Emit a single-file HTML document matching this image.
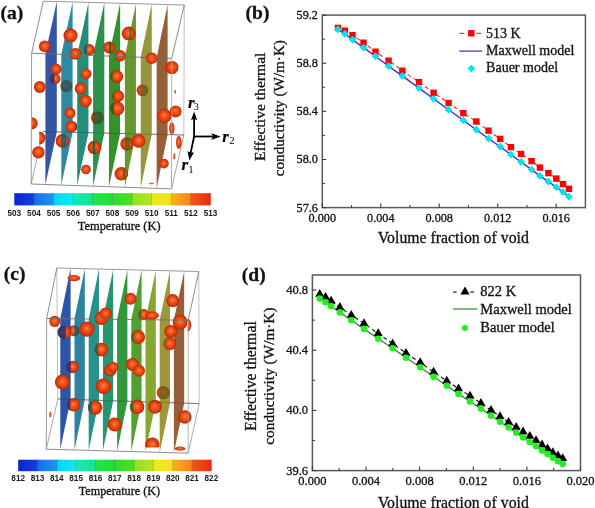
<!DOCTYPE html><html><head><meta charset="utf-8"><title>Figure</title><style>html,body{margin:0;padding:0;background:#fff;}svg{display:block;}text{stroke:#111;stroke-width:0.3px;paint-order:stroke;}</style></head><body>
<svg width="595" height="508" viewBox="0 0 595 508">
<defs>
<radialGradient id="sg" cx="0.5" cy="0.5" r="0.5" fx="0.5" fy="0.45"><stop offset="0" stop-color="#ff8a55"/><stop offset="0.35" stop-color="#f5561e"/><stop offset="0.75" stop-color="#e03a0a"/><stop offset="1" stop-color="#a82a05"/></radialGradient>
<linearGradient id="jet0" x1="0" x2="1" y1="0" y2="0"><stop offset="0" stop-color="#0a23d2"/><stop offset="1" stop-color="#1440e0"/></linearGradient>
<linearGradient id="jet1" x1="0" x2="1" y1="0" y2="0"><stop offset="0" stop-color="#146ee8"/><stop offset="1" stop-color="#1e96f0"/></linearGradient>
<linearGradient id="jet2" x1="0" x2="1" y1="0" y2="0"><stop offset="0" stop-color="#00d2f8"/><stop offset="1" stop-color="#10ecf0"/></linearGradient>
<linearGradient id="jet3" x1="0" x2="1" y1="0" y2="0"><stop offset="0" stop-color="#14eab4"/><stop offset="1" stop-color="#14e48c"/></linearGradient>
<linearGradient id="jet4" x1="0" x2="1" y1="0" y2="0"><stop offset="0" stop-color="#1ee650"/><stop offset="1" stop-color="#1ce036"/></linearGradient>
<linearGradient id="jet5" x1="0" x2="1" y1="0" y2="0"><stop offset="0" stop-color="#28e028"/><stop offset="1" stop-color="#50e020"/></linearGradient>
<linearGradient id="jet6" x1="0" x2="1" y1="0" y2="0"><stop offset="0" stop-color="#8ce220"/><stop offset="1" stop-color="#b8e620"/></linearGradient>
<linearGradient id="jet7" x1="0" x2="1" y1="0" y2="0"><stop offset="0" stop-color="#ecec1c"/><stop offset="1" stop-color="#f8e01c"/></linearGradient>
<linearGradient id="jet8" x1="0" x2="1" y1="0" y2="0"><stop offset="0" stop-color="#f8b418"/><stop offset="1" stop-color="#f88018"/></linearGradient>
<linearGradient id="jet9" x1="0" x2="1" y1="0" y2="0"><stop offset="0" stop-color="#f05a18"/><stop offset="1" stop-color="#e82814"/></linearGradient>
<linearGradient id="jet" x1="0" x2="1" y1="0" y2="0"><stop offset="0" stop-color="#0a1ed6"/><stop offset="0.1" stop-color="#1050e8"/><stop offset="0.2" stop-color="#1aa0f0"/><stop offset="0.3" stop-color="#10e6f2"/><stop offset="0.4" stop-color="#18e8a0"/><stop offset="0.5" stop-color="#20e050"/><stop offset="0.6" stop-color="#50dc20"/><stop offset="0.7" stop-color="#b0e020"/><stop offset="0.8" stop-color="#f0ec20"/><stop offset="0.9" stop-color="#f89818"/><stop offset="1" stop-color="#e82a10"/></linearGradient>
<clipPath id="clipA"><polygon points="43.3,1.2 184.3,5 183.8,135 171.5,188.9 31.2,184 31.6,53.3"/></clipPath>
<clipPath id="clipC"><polygon points="56.8,268 198.8,271.5 199.2,403.6 188.2,453.2 46.3,449.2 46.7,318.5"/></clipPath>
<clipPath id="cA1"><rect x="31.8" y="0" width="200" height="300"/></clipPath>
<clipPath id="cA2"><rect x="39.2" y="0" width="200" height="300"/></clipPath>
<clipPath id="cA3"><polygon points="0,0 184.3,135 172,188 0,188"/></clipPath>
<clipPath id="cC1"><rect x="49.3" y="250" width="200" height="300"/></clipPath>
<clipPath id="cC2"><rect x="187.7" y="250" width="200" height="300"/></clipPath>
<clipPath id="cC3"><rect x="0" y="250" width="250" height="197.5"/></clipPath>
</defs>
<line x1="43.3" y1="1.2" x2="184.3" y2="5" stroke="#8c8c8c" stroke-width="0.9" />
<line x1="184.3" y1="5" x2="183.8" y2="135" stroke="#b0b0b0" stroke-width="0.8" />
<line x1="183.8" y1="135" x2="43" y2="131.5" stroke="#7a7a7a" stroke-width="0.9" />
<line x1="171.5" y1="188.9" x2="183.8" y2="135" stroke="#909090" stroke-width="0.8" />
<line x1="31.2" y1="184" x2="43" y2="131.5" stroke="#909090" stroke-width="0.8" />
<polygon points="45.4,53.8 56.8,1.56 56.8,131.84 45.4,184.5" fill="#254b9a" fill-opacity="0.94"/>
<polygon points="61.29,54.38 72.63,1.99 72.63,132.24 61.29,185.05" fill="#20839a" fill-opacity="0.94"/>
<polygon points="77.18,54.96 88.46,2.42 88.46,132.63 77.18,185.61" fill="#1a8572" fill-opacity="0.94"/>
<polygon points="93.07,55.54 104.29,2.84 104.29,133.02 93.07,186.16" fill="#208a43" fill-opacity="0.94"/>
<polygon points="108.96,56.12 120.12,3.27 120.12,133.42 108.96,186.72" fill="#278a1f" fill-opacity="0.94"/>
<polygon points="124.85,56.69 135.95,3.7 135.95,133.81 124.85,187.27" fill="#5f8f22" fill-opacity="0.94"/>
<polygon points="140.74,57.27 151.78,4.12 151.78,134.2 140.74,187.83" fill="#8f8f30" fill-opacity="0.94"/>
<polygon points="156.63,57.85 167.61,4.55 167.61,134.6 156.63,188.38" fill="#8f552a" fill-opacity="0.94"/>
<clipPath id="bca10"><circle cx="66.3" cy="86.2" r="5.9"/></clipPath>
<circle cx="66.3" cy="86.2" r="5.9" fill="url(#sg)"/>
<g clip-path="url(#bca10)">
<polygon points="45.4,53.8 56.8,1.56 56.8,131.84 45.4,184.5" fill="#254b9a" fill-opacity="0.8"/>
<polygon points="45.4,53.8 56.8,1.56 56.8,131.84 45.4,184.5" fill="#000" fill-opacity="0.25"/>
<polygon points="61.29,54.38 72.63,1.99 72.63,132.24 61.29,185.05" fill="#20839a" fill-opacity="0.8"/>
<polygon points="61.29,54.38 72.63,1.99 72.63,132.24 61.29,185.05" fill="#000" fill-opacity="0.25"/>
<polygon points="77.18,54.96 88.46,2.42 88.46,132.63 77.18,185.61" fill="#1a8572" fill-opacity="0.8"/>
<polygon points="77.18,54.96 88.46,2.42 88.46,132.63 77.18,185.61" fill="#000" fill-opacity="0.25"/>
<polygon points="93.07,55.54 104.29,2.84 104.29,133.02 93.07,186.16" fill="#208a43" fill-opacity="0.8"/>
<polygon points="93.07,55.54 104.29,2.84 104.29,133.02 93.07,186.16" fill="#000" fill-opacity="0.25"/>
<polygon points="108.96,56.12 120.12,3.27 120.12,133.42 108.96,186.72" fill="#278a1f" fill-opacity="0.8"/>
<polygon points="108.96,56.12 120.12,3.27 120.12,133.42 108.96,186.72" fill="#000" fill-opacity="0.25"/>
<polygon points="124.85,56.69 135.95,3.7 135.95,133.81 124.85,187.27" fill="#5f8f22" fill-opacity="0.8"/>
<polygon points="124.85,56.69 135.95,3.7 135.95,133.81 124.85,187.27" fill="#000" fill-opacity="0.25"/>
<polygon points="140.74,57.27 151.78,4.12 151.78,134.2 140.74,187.83" fill="#8f8f30" fill-opacity="0.8"/>
<polygon points="140.74,57.27 151.78,4.12 151.78,134.2 140.74,187.83" fill="#000" fill-opacity="0.25"/>
<polygon points="156.63,57.85 167.61,4.55 167.61,134.6 156.63,188.38" fill="#8f552a" fill-opacity="0.8"/>
<polygon points="156.63,57.85 167.61,4.55 167.61,134.6 156.63,188.38" fill="#000" fill-opacity="0.25"/>
</g>
<clipPath id="bca19"><circle cx="97.2" cy="117.8" r="6.3"/></clipPath>
<circle cx="97.2" cy="117.8" r="6.3" fill="url(#sg)"/>
<g clip-path="url(#bca19)">
<polygon points="45.4,53.8 56.8,1.56 56.8,131.84 45.4,184.5" fill="#254b9a" fill-opacity="0.8"/>
<polygon points="45.4,53.8 56.8,1.56 56.8,131.84 45.4,184.5" fill="#000" fill-opacity="0.25"/>
<polygon points="61.29,54.38 72.63,1.99 72.63,132.24 61.29,185.05" fill="#20839a" fill-opacity="0.8"/>
<polygon points="61.29,54.38 72.63,1.99 72.63,132.24 61.29,185.05" fill="#000" fill-opacity="0.25"/>
<polygon points="77.18,54.96 88.46,2.42 88.46,132.63 77.18,185.61" fill="#1a8572" fill-opacity="0.8"/>
<polygon points="77.18,54.96 88.46,2.42 88.46,132.63 77.18,185.61" fill="#000" fill-opacity="0.25"/>
<polygon points="93.07,55.54 104.29,2.84 104.29,133.02 93.07,186.16" fill="#208a43" fill-opacity="0.8"/>
<polygon points="93.07,55.54 104.29,2.84 104.29,133.02 93.07,186.16" fill="#000" fill-opacity="0.25"/>
<polygon points="108.96,56.12 120.12,3.27 120.12,133.42 108.96,186.72" fill="#278a1f" fill-opacity="0.8"/>
<polygon points="108.96,56.12 120.12,3.27 120.12,133.42 108.96,186.72" fill="#000" fill-opacity="0.25"/>
<polygon points="124.85,56.69 135.95,3.7 135.95,133.81 124.85,187.27" fill="#5f8f22" fill-opacity="0.8"/>
<polygon points="124.85,56.69 135.95,3.7 135.95,133.81 124.85,187.27" fill="#000" fill-opacity="0.25"/>
<polygon points="140.74,57.27 151.78,4.12 151.78,134.2 140.74,187.83" fill="#8f8f30" fill-opacity="0.8"/>
<polygon points="140.74,57.27 151.78,4.12 151.78,134.2 140.74,187.83" fill="#000" fill-opacity="0.25"/>
<polygon points="156.63,57.85 167.61,4.55 167.61,134.6 156.63,188.38" fill="#8f552a" fill-opacity="0.8"/>
<polygon points="156.63,57.85 167.61,4.55 167.61,134.6 156.63,188.38" fill="#000" fill-opacity="0.25"/>
</g>
<clipPath id="bca20"><circle cx="142.4" cy="90.3" r="5.8"/></clipPath>
<circle cx="142.4" cy="90.3" r="5.8" fill="url(#sg)"/>
<g clip-path="url(#bca20)">
<polygon points="45.4,53.8 56.8,1.56 56.8,131.84 45.4,184.5" fill="#254b9a" fill-opacity="0.8"/>
<polygon points="45.4,53.8 56.8,1.56 56.8,131.84 45.4,184.5" fill="#000" fill-opacity="0.25"/>
<polygon points="61.29,54.38 72.63,1.99 72.63,132.24 61.29,185.05" fill="#20839a" fill-opacity="0.8"/>
<polygon points="61.29,54.38 72.63,1.99 72.63,132.24 61.29,185.05" fill="#000" fill-opacity="0.25"/>
<polygon points="77.18,54.96 88.46,2.42 88.46,132.63 77.18,185.61" fill="#1a8572" fill-opacity="0.8"/>
<polygon points="77.18,54.96 88.46,2.42 88.46,132.63 77.18,185.61" fill="#000" fill-opacity="0.25"/>
<polygon points="93.07,55.54 104.29,2.84 104.29,133.02 93.07,186.16" fill="#208a43" fill-opacity="0.8"/>
<polygon points="93.07,55.54 104.29,2.84 104.29,133.02 93.07,186.16" fill="#000" fill-opacity="0.25"/>
<polygon points="108.96,56.12 120.12,3.27 120.12,133.42 108.96,186.72" fill="#278a1f" fill-opacity="0.8"/>
<polygon points="108.96,56.12 120.12,3.27 120.12,133.42 108.96,186.72" fill="#000" fill-opacity="0.25"/>
<polygon points="124.85,56.69 135.95,3.7 135.95,133.81 124.85,187.27" fill="#5f8f22" fill-opacity="0.8"/>
<polygon points="124.85,56.69 135.95,3.7 135.95,133.81 124.85,187.27" fill="#000" fill-opacity="0.25"/>
<polygon points="140.74,57.27 151.78,4.12 151.78,134.2 140.74,187.83" fill="#8f8f30" fill-opacity="0.8"/>
<polygon points="140.74,57.27 151.78,4.12 151.78,134.2 140.74,187.83" fill="#000" fill-opacity="0.25"/>
<polygon points="156.63,57.85 167.61,4.55 167.61,134.6 156.63,188.38" fill="#8f552a" fill-opacity="0.8"/>
<polygon points="156.63,57.85 167.61,4.55 167.61,134.6 156.63,188.38" fill="#000" fill-opacity="0.25"/>
</g>
<circle cx="44.8" cy="46.4" r="5.9" fill="url(#sg)"/>
<circle cx="70.5" cy="35.5" r="7" fill="url(#sg)"/>
<circle cx="75.4" cy="53.9" r="5.9" fill="url(#sg)"/>
<circle cx="89.3" cy="49.7" r="5.6" fill="url(#sg)"/>
<circle cx="109.2" cy="47.6" r="6" fill="url(#sg)"/>
<circle cx="128.7" cy="33.6" r="7" fill="url(#sg)"/>
<circle cx="120.3" cy="55.7" r="5.7" fill="url(#sg)"/>
<circle cx="56.2" cy="69.2" r="5.5" fill="url(#sg)"/>
<circle cx="55.2" cy="78.8" r="5.4" fill="url(#sg)"/>
<circle cx="39.8" cy="87" r="5.9" fill="url(#sg)"/>
<circle cx="86" cy="73.8" r="5.4" fill="url(#sg)"/>
<circle cx="80.6" cy="88.5" r="5.9" fill="url(#sg)"/>
<circle cx="85.5" cy="101" r="6.3" fill="url(#sg)"/>
<circle cx="116.8" cy="76.5" r="6.4" fill="url(#sg)"/>
<circle cx="118.2" cy="96.2" r="5.9" fill="url(#sg)"/>
<circle cx="117.3" cy="108.5" r="7" fill="url(#sg)"/>
<circle cx="70" cy="113.1" r="5.5" fill="url(#sg)"/>
<circle cx="71.4" cy="126.7" r="5.9" fill="url(#sg)"/>
<circle cx="151.7" cy="58.2" r="5.8" fill="url(#sg)"/>
<circle cx="171.9" cy="67.5" r="6.6" fill="url(#sg)"/>
<circle cx="175.6" cy="111.4" r="6" fill="url(#sg)"/>
<circle cx="164.3" cy="116" r="7.2" fill="url(#sg)"/>
<circle cx="31.5" cy="123.4" r="6.2" fill="url(#sg)" clip-path="url(#cA1)"/>
<circle cx="38.9" cy="138" r="6.5" fill="url(#sg)" clip-path="url(#cA2)"/>
<circle cx="62.5" cy="140.9" r="6.8" fill="url(#sg)"/>
<circle cx="38.4" cy="152.4" r="6.2" fill="url(#sg)"/>
<circle cx="94.4" cy="147.5" r="6.8" fill="url(#sg)"/>
<circle cx="86" cy="169.5" r="4.8" fill="url(#sg)"/>
<circle cx="121.3" cy="173.8" r="6.8" fill="url(#sg)"/>
<circle cx="126.9" cy="143.8" r="6.6" fill="url(#sg)"/>
<circle cx="138.6" cy="140.9" r="6.8" fill="url(#sg)"/>
<circle cx="164" cy="163.6" r="4.8" fill="url(#sg)"/>
<ellipse cx="171.8" cy="128.4" rx="2.6" ry="6.2" fill="url(#sg)"/>
<ellipse cx="178.8" cy="142.4" rx="2.7" ry="6.4" fill="url(#sg)" clip-path="url(#cA3)"/>
<ellipse cx="174.3" cy="156.2" rx="1" ry="3" fill="url(#sg)"/>
<ellipse cx="175.2" cy="91.8" rx="0.8" ry="2" fill="url(#sg)"/>
<ellipse cx="151.4" cy="183.5" rx="2.5" ry="0.8" fill="url(#sg)"/>
<clipPath id="bda0"><circle cx="62.5" cy="140.9" r="6.8"/></clipPath>
<g clip-path="url(#bda0)"><rect x="61" y="134.1" width="5.4" height="13.6" fill="#20839a" fill-opacity="0.8"/><rect x="61" y="134.1" width="5.4" height="13.6" fill="#000" fill-opacity="0.22"/></g>
<clipPath id="bda1"><circle cx="94.4" cy="147.5" r="6.8"/></clipPath>
<g clip-path="url(#bda1)"><rect x="92.6" y="140.7" width="2.7" height="13.6" fill="#208a43" fill-opacity="0.8"/><rect x="92.6" y="140.7" width="2.7" height="13.6" fill="#000" fill-opacity="0.22"/></g>
<clipPath id="bda2"><circle cx="126.9" cy="143.8" r="6.6"/></clipPath>
<g clip-path="url(#bda2)"><rect x="124.9" y="137.2" width="4.7" height="13.2" fill="#5f8f22" fill-opacity="0.8"/><rect x="124.9" y="137.2" width="4.7" height="13.2" fill="#000" fill-opacity="0.22"/></g>
<clipPath id="bda3"><circle cx="121.3" cy="173.8" r="6.8"/></clipPath>
<g clip-path="url(#bda3)"><rect x="122.9" y="167" width="2" height="13.6" fill="#5f8f22" fill-opacity="0.8"/><rect x="122.9" y="167" width="2" height="13.6" fill="#000" fill-opacity="0.22"/></g>
<clipPath id="bda4"><circle cx="71.4" cy="126.7" r="5.9"/></clipPath>
<g clip-path="url(#bda4)"><rect x="75.2" y="120.8" width="2.4" height="11.8" fill="#1a8572" fill-opacity="0.8"/><rect x="75.2" y="120.8" width="2.4" height="11.8" fill="#000" fill-opacity="0.22"/></g>
<clipPath id="bda5"><circle cx="55.2" cy="78.8" r="5.4"/></clipPath>
<g clip-path="url(#bda5)"><rect x="49.5" y="73.4" width="5" height="10.8" fill="#254b9a" fill-opacity="0.8"/><rect x="49.5" y="73.4" width="5" height="10.8" fill="#000" fill-opacity="0.22"/></g>
<clipPath id="bda6"><circle cx="89.3" cy="49.7" r="5.6"/></clipPath>
<g clip-path="url(#bda6)"><rect x="83.5" y="44.1" width="3.5" height="11.2" fill="#1a8572" fill-opacity="0.8"/><rect x="83.5" y="44.1" width="3.5" height="11.2" fill="#000" fill-opacity="0.22"/></g>
<clipPath id="bda7"><circle cx="117.3" cy="108.5" r="7"/></clipPath>
<g clip-path="url(#bda7)"><rect x="110" y="101.5" width="4" height="14" fill="#278a1f" fill-opacity="0.8"/><rect x="110" y="101.5" width="4" height="14" fill="#000" fill-opacity="0.22"/></g>
<clipPath id="bda8"><circle cx="116.8" cy="76.5" r="6.4"/></clipPath>
<g clip-path="url(#bda8)"><rect x="110.2" y="70.1" width="2.3" height="12.8" fill="#278a1f" fill-opacity="0.8"/><rect x="110.2" y="70.1" width="2.3" height="12.8" fill="#000" fill-opacity="0.22"/></g>
<clipPath id="bda9"><circle cx="118.2" cy="96.2" r="5.9"/></clipPath>
<g clip-path="url(#bda9)"><rect x="112.2" y="90.3" width="1.8" height="11.8" fill="#278a1f" fill-opacity="0.8"/><rect x="112.2" y="90.3" width="1.8" height="11.8" fill="#000" fill-opacity="0.22"/></g>
<clipPath id="bda10"><circle cx="128.7" cy="33.6" r="7"/></clipPath>
<g clip-path="url(#bda10)"><rect x="129.5" y="26.6" width="1.7" height="14" fill="#5f8f22" fill-opacity="0.8"/><rect x="129.5" y="26.6" width="1.7" height="14" fill="#000" fill-opacity="0.22"/></g>
<clipPath id="bda11"><circle cx="109.2" cy="47.6" r="6"/></clipPath>
<g clip-path="url(#bda11)"><rect x="109" y="41.6" width="2.3" height="12" fill="#278a1f" fill-opacity="0.8"/><rect x="109" y="41.6" width="2.3" height="12" fill="#000" fill-opacity="0.22"/></g>
<line x1="183.8" y1="135" x2="43" y2="131.5" stroke="#303030" stroke-width="0.8" stroke-dasharray="1.2 1" stroke-opacity="0.45"/>
<line x1="31.6" y1="53.3" x2="171.7" y2="58.4" stroke="#707070" stroke-width="0.9" />
<line x1="171.7" y1="58.4" x2="171.5" y2="188.9" stroke="#a0a0a0" stroke-width="0.8" />
<line x1="171.5" y1="188.9" x2="31.2" y2="184" stroke="#808080" stroke-width="0.9" />
<line x1="31.2" y1="184" x2="31.6" y2="53.3" stroke="#909090" stroke-width="0.9" />
<line x1="31.6" y1="53.3" x2="43.3" y2="1.2" stroke="#707070" stroke-width="0.8" />
<line x1="171.7" y1="58.4" x2="184.3" y2="5" stroke="#707070" stroke-width="0.8" />
<rect x="14.3" y="193.2" width="19.92" height="12.2" fill="url(#jet0)"/>
<rect x="33.92" y="193.2" width="19.92" height="12.2" fill="url(#jet1)"/>
<rect x="53.54" y="193.2" width="19.92" height="12.2" fill="url(#jet2)"/>
<rect x="73.16" y="193.2" width="19.92" height="12.2" fill="url(#jet3)"/>
<rect x="92.78" y="193.2" width="19.92" height="12.2" fill="url(#jet4)"/>
<rect x="112.4" y="193.2" width="19.92" height="12.2" fill="url(#jet5)"/>
<rect x="132.02" y="193.2" width="19.92" height="12.2" fill="url(#jet6)"/>
<rect x="151.64" y="193.2" width="19.92" height="12.2" fill="url(#jet7)"/>
<rect x="171.26" y="193.2" width="19.92" height="12.2" fill="url(#jet8)"/>
<rect x="190.88" y="193.2" width="19.92" height="12.2" fill="url(#jet9)"/>
<line x1="33.92" y1="193.2" x2="33.92" y2="205.4" stroke="#333" stroke-width="0.7" stroke-dasharray="1 1" stroke-opacity="0.6"/>
<line x1="53.54" y1="193.2" x2="53.54" y2="205.4" stroke="#333" stroke-width="0.7" stroke-dasharray="1 1" stroke-opacity="0.6"/>
<line x1="73.16" y1="193.2" x2="73.16" y2="205.4" stroke="#333" stroke-width="0.7" stroke-dasharray="1 1" stroke-opacity="0.6"/>
<line x1="92.78" y1="193.2" x2="92.78" y2="205.4" stroke="#333" stroke-width="0.7" stroke-dasharray="1 1" stroke-opacity="0.6"/>
<line x1="112.4" y1="193.2" x2="112.4" y2="205.4" stroke="#333" stroke-width="0.7" stroke-dasharray="1 1" stroke-opacity="0.6"/>
<line x1="132.02" y1="193.2" x2="132.02" y2="205.4" stroke="#333" stroke-width="0.7" stroke-dasharray="1 1" stroke-opacity="0.6"/>
<line x1="151.64" y1="193.2" x2="151.64" y2="205.4" stroke="#333" stroke-width="0.7" stroke-dasharray="1 1" stroke-opacity="0.6"/>
<line x1="171.26" y1="193.2" x2="171.26" y2="205.4" stroke="#333" stroke-width="0.7" stroke-dasharray="1 1" stroke-opacity="0.6"/>
<line x1="190.88" y1="193.2" x2="190.88" y2="205.4" stroke="#333" stroke-width="0.7" stroke-dasharray="1 1" stroke-opacity="0.6"/>
<text x="14.3" y="215.6" text-anchor="middle" font-family="'Liberation Sans', Arial, sans-serif" font-size="8.2" font-weight="bold" fill="#1a1a1a" style="stroke-width:0">503</text>
<text x="33.92" y="215.6" text-anchor="middle" font-family="'Liberation Sans', Arial, sans-serif" font-size="8.2" font-weight="bold" fill="#1a1a1a" style="stroke-width:0">504</text>
<text x="53.54" y="215.6" text-anchor="middle" font-family="'Liberation Sans', Arial, sans-serif" font-size="8.2" font-weight="bold" fill="#1a1a1a" style="stroke-width:0">505</text>
<text x="73.16" y="215.6" text-anchor="middle" font-family="'Liberation Sans', Arial, sans-serif" font-size="8.2" font-weight="bold" fill="#1a1a1a" style="stroke-width:0">506</text>
<text x="92.78" y="215.6" text-anchor="middle" font-family="'Liberation Sans', Arial, sans-serif" font-size="8.2" font-weight="bold" fill="#1a1a1a" style="stroke-width:0">507</text>
<text x="112.4" y="215.6" text-anchor="middle" font-family="'Liberation Sans', Arial, sans-serif" font-size="8.2" font-weight="bold" fill="#1a1a1a" style="stroke-width:0">508</text>
<text x="132.02" y="215.6" text-anchor="middle" font-family="'Liberation Sans', Arial, sans-serif" font-size="8.2" font-weight="bold" fill="#1a1a1a" style="stroke-width:0">509</text>
<text x="151.64" y="215.6" text-anchor="middle" font-family="'Liberation Sans', Arial, sans-serif" font-size="8.2" font-weight="bold" fill="#1a1a1a" style="stroke-width:0">510</text>
<text x="171.26" y="215.6" text-anchor="middle" font-family="'Liberation Sans', Arial, sans-serif" font-size="8.2" font-weight="bold" fill="#1a1a1a" style="stroke-width:0">511</text>
<text x="190.88" y="215.6" text-anchor="middle" font-family="'Liberation Sans', Arial, sans-serif" font-size="8.2" font-weight="bold" fill="#1a1a1a" style="stroke-width:0">512</text>
<text x="210.5" y="215.6" text-anchor="middle" font-family="'Liberation Sans', Arial, sans-serif" font-size="8.2" font-weight="bold" fill="#1a1a1a" style="stroke-width:0">513</text>
<text x="119.2" y="230.3" text-anchor="middle" font-family="'Liberation Serif', 'Times New Roman', serif" font-size="12.4" fill="#111">Temperature (K)</text>
<text x="0.5" y="18.8" font-family="'Liberation Serif', 'Times New Roman', serif" font-size="19.5" font-weight="bold" fill="#111">(a)</text>
<g stroke="#000" stroke-width="1.8" fill="none"><line x1="194.1" y1="137.4" x2="194.1" y2="118"/><line x1="193.3" y1="136.5" x2="213" y2="136.5"/><line x1="194.1" y1="136.5" x2="190.6" y2="153"/></g>
<polygon points="194.1,111.4 197.3,120.5 194.1,118.5 190.9,120.5" fill="#000"/>
<polygon points="220.6,136.6 211.2,139.9 213.2,136.6 211.2,133.3" fill="#000"/>
<polygon points="189.3,160.6 187.6,151.2 190.8,152.6 194,152.5" fill="#000"/>
<text x="188.0" y="107.6" font-family="'Liberation Serif', 'Times New Roman', serif" font-size="17" font-style="italic" font-weight="bold" fill="#000" style="stroke-width:0.15px">r</text><text x="193.6" y="109.8" font-family="'Liberation Serif', 'Times New Roman', serif" font-size="10.8" fill="#000" style="stroke-width:0">3</text>
<text x="222.3" y="141.5" font-family="'Liberation Serif', 'Times New Roman', serif" font-size="17" font-style="italic" font-weight="bold" fill="#000" style="stroke-width:0.15px">r</text><text x="229.2" y="144" font-family="'Liberation Serif', 'Times New Roman', serif" font-size="10.8" fill="#000" style="stroke-width:0">2</text>
<text x="181.6" y="170.4" font-family="'Liberation Serif', 'Times New Roman', serif" font-size="17" font-style="italic" font-weight="bold" fill="#000" style="stroke-width:0.15px">r</text><text x="188.2" y="173.4" font-family="'Liberation Serif', 'Times New Roman', serif" font-size="10.8" fill="#000" style="stroke-width:0">1</text>
<line x1="56.8" y1="268" x2="198.8" y2="271.5" stroke="#8c8c8c" stroke-width="0.9" />
<line x1="198.8" y1="271.5" x2="199.2" y2="403.6" stroke="#b0b0b0" stroke-width="0.8" />
<line x1="199.2" y1="403.6" x2="57.8" y2="398.9" stroke="#7a7a7a" stroke-width="0.9" />
<line x1="57.8" y1="398.9" x2="56.8" y2="268" stroke="#b0b0b0" stroke-width="0.8" />
<line x1="188.2" y1="453.2" x2="199.2" y2="403.6" stroke="#909090" stroke-width="0.8" />
<line x1="46.3" y1="449.2" x2="57.8" y2="398.9" stroke="#909090" stroke-width="0.8" />
<polygon points="60.3,318.66 70.6,268.34 70.6,399.33 60.3,449.59" fill="#204a9f" fill-opacity="0.94"/>
<polygon points="74.5,318.83 84.8,268.69 84.8,399.8 74.5,449.99" fill="#207a9a" fill-opacity="0.94"/>
<polygon points="88.7,319 99,269.04 99,400.27 88.7,450.4" fill="#1a8a85" fill-opacity="0.94"/>
<polygon points="102.9,319.18 113.2,269.39 113.2,400.74 102.9,450.8" fill="#1a8f65" fill-opacity="0.94"/>
<polygon points="117.1,319.35 127.4,269.74 127.4,401.21 117.1,451.2" fill="#258f30" fill-opacity="0.94"/>
<polygon points="131.3,319.52 141.6,270.09 141.6,401.69 131.3,451.6" fill="#459a25" fill-opacity="0.94"/>
<polygon points="145.5,319.69 155.8,270.44 155.8,402.16 145.5,452" fill="#7fa225" fill-opacity="0.94"/>
<polygon points="159.7,319.86 170,270.79 170,402.63 159.7,452.4" fill="#9a8f30" fill-opacity="0.94"/>
<polygon points="173.9,320.03 184.2,271.14 184.2,403.1 173.9,452.8" fill="#8f552a" fill-opacity="0.94"/>
<clipPath id="bcc3"><circle cx="73.8" cy="330.7" r="5.5"/></clipPath>
<circle cx="73.8" cy="330.7" r="5.5" fill="url(#sg)"/>
<g clip-path="url(#bcc3)">
<polygon points="60.3,318.66 70.6,268.34 70.6,399.33 60.3,449.59" fill="#204a9f" fill-opacity="0.8"/>
<polygon points="60.3,318.66 70.6,268.34 70.6,399.33 60.3,449.59" fill="#000" fill-opacity="0.25"/>
<polygon points="74.5,318.83 84.8,268.69 84.8,399.8 74.5,449.99" fill="#207a9a" fill-opacity="0.8"/>
<polygon points="74.5,318.83 84.8,268.69 84.8,399.8 74.5,449.99" fill="#000" fill-opacity="0.25"/>
<polygon points="88.7,319 99,269.04 99,400.27 88.7,450.4" fill="#1a8a85" fill-opacity="0.8"/>
<polygon points="88.7,319 99,269.04 99,400.27 88.7,450.4" fill="#000" fill-opacity="0.25"/>
<polygon points="102.9,319.18 113.2,269.39 113.2,400.74 102.9,450.8" fill="#1a8f65" fill-opacity="0.8"/>
<polygon points="102.9,319.18 113.2,269.39 113.2,400.74 102.9,450.8" fill="#000" fill-opacity="0.25"/>
<polygon points="117.1,319.35 127.4,269.74 127.4,401.21 117.1,451.2" fill="#258f30" fill-opacity="0.8"/>
<polygon points="117.1,319.35 127.4,269.74 127.4,401.21 117.1,451.2" fill="#000" fill-opacity="0.25"/>
<polygon points="131.3,319.52 141.6,270.09 141.6,401.69 131.3,451.6" fill="#459a25" fill-opacity="0.8"/>
<polygon points="131.3,319.52 141.6,270.09 141.6,401.69 131.3,451.6" fill="#000" fill-opacity="0.25"/>
<polygon points="145.5,319.69 155.8,270.44 155.8,402.16 145.5,452" fill="#7fa225" fill-opacity="0.8"/>
<polygon points="145.5,319.69 155.8,270.44 155.8,402.16 145.5,452" fill="#000" fill-opacity="0.25"/>
<polygon points="159.7,319.86 170,270.79 170,402.63 159.7,452.4" fill="#9a8f30" fill-opacity="0.8"/>
<polygon points="159.7,319.86 170,270.79 170,402.63 159.7,452.4" fill="#000" fill-opacity="0.25"/>
<polygon points="173.9,320.03 184.2,271.14 184.2,403.1 173.9,452.8" fill="#8f552a" fill-opacity="0.8"/>
<polygon points="173.9,320.03 184.2,271.14 184.2,403.1 173.9,452.8" fill="#000" fill-opacity="0.25"/>
</g>
<clipPath id="bcc27"><circle cx="163.3" cy="392.7" r="6.5"/></clipPath>
<circle cx="163.3" cy="392.7" r="6.5" fill="url(#sg)"/>
<g clip-path="url(#bcc27)">
<polygon points="60.3,318.66 70.6,268.34 70.6,399.33 60.3,449.59" fill="#204a9f" fill-opacity="0.8"/>
<polygon points="60.3,318.66 70.6,268.34 70.6,399.33 60.3,449.59" fill="#000" fill-opacity="0.25"/>
<polygon points="74.5,318.83 84.8,268.69 84.8,399.8 74.5,449.99" fill="#207a9a" fill-opacity="0.8"/>
<polygon points="74.5,318.83 84.8,268.69 84.8,399.8 74.5,449.99" fill="#000" fill-opacity="0.25"/>
<polygon points="88.7,319 99,269.04 99,400.27 88.7,450.4" fill="#1a8a85" fill-opacity="0.8"/>
<polygon points="88.7,319 99,269.04 99,400.27 88.7,450.4" fill="#000" fill-opacity="0.25"/>
<polygon points="102.9,319.18 113.2,269.39 113.2,400.74 102.9,450.8" fill="#1a8f65" fill-opacity="0.8"/>
<polygon points="102.9,319.18 113.2,269.39 113.2,400.74 102.9,450.8" fill="#000" fill-opacity="0.25"/>
<polygon points="117.1,319.35 127.4,269.74 127.4,401.21 117.1,451.2" fill="#258f30" fill-opacity="0.8"/>
<polygon points="117.1,319.35 127.4,269.74 127.4,401.21 117.1,451.2" fill="#000" fill-opacity="0.25"/>
<polygon points="131.3,319.52 141.6,270.09 141.6,401.69 131.3,451.6" fill="#459a25" fill-opacity="0.8"/>
<polygon points="131.3,319.52 141.6,270.09 141.6,401.69 131.3,451.6" fill="#000" fill-opacity="0.25"/>
<polygon points="145.5,319.69 155.8,270.44 155.8,402.16 145.5,452" fill="#7fa225" fill-opacity="0.8"/>
<polygon points="145.5,319.69 155.8,270.44 155.8,402.16 145.5,452" fill="#000" fill-opacity="0.25"/>
<polygon points="159.7,319.86 170,270.79 170,402.63 159.7,452.4" fill="#9a8f30" fill-opacity="0.8"/>
<polygon points="159.7,319.86 170,270.79 170,402.63 159.7,452.4" fill="#000" fill-opacity="0.25"/>
<polygon points="173.9,320.03 184.2,271.14 184.2,403.1 173.9,452.8" fill="#8f552a" fill-opacity="0.8"/>
<polygon points="173.9,320.03 184.2,271.14 184.2,403.1 173.9,452.8" fill="#000" fill-opacity="0.25"/>
</g>
<ellipse cx="73.9" cy="278.1" rx="6.4" ry="3.1" fill="url(#sg)"/>
<circle cx="54.6" cy="321.3" r="5.6" fill="url(#sg)" clip-path="url(#cC1)"/>
<circle cx="64.4" cy="332.3" r="6.8" fill="url(#sg)"/>
<circle cx="86.9" cy="329.1" r="7.6" fill="url(#sg)"/>
<circle cx="101.4" cy="318.1" r="6.8" fill="url(#sg)"/>
<circle cx="105.7" cy="313.6" r="6" fill="url(#sg)"/>
<circle cx="101.4" cy="349.6" r="6.8" fill="url(#sg)"/>
<circle cx="72.5" cy="367" r="6.2" fill="url(#sg)"/>
<circle cx="62.4" cy="382" r="7.5" fill="url(#sg)"/>
<circle cx="110.2" cy="370.3" r="6.2" fill="url(#sg)"/>
<circle cx="112.9" cy="367.2" r="5.5" fill="url(#sg)"/>
<circle cx="103.5" cy="386.2" r="7.8" fill="url(#sg)"/>
<circle cx="73.6" cy="404.8" r="6.8" fill="url(#sg)"/>
<circle cx="95.1" cy="407.6" r="7.2" fill="url(#sg)"/>
<circle cx="114.7" cy="424.5" r="7" fill="url(#sg)"/>
<circle cx="130.6" cy="298.7" r="6" fill="url(#sg)"/>
<circle cx="143.7" cy="314.6" r="5.6" fill="url(#sg)"/>
<ellipse cx="152.1" cy="315.5" rx="6.8" ry="4" fill="url(#sg)"/>
<circle cx="172.7" cy="300.6" r="6.5" fill="url(#sg)"/>
<circle cx="180.1" cy="322.1" r="7.5" fill="url(#sg)"/>
<ellipse cx="187.7" cy="325.1" rx="3.6" ry="6.3" fill="url(#sg)" clip-path="url(#cC2)"/>
<circle cx="170.8" cy="331.4" r="6.5" fill="url(#sg)"/>
<circle cx="169.8" cy="343.6" r="6.5" fill="url(#sg)"/>
<circle cx="138.1" cy="337" r="7" fill="url(#sg)"/>
<circle cx="132.4" cy="364.4" r="6.5" fill="url(#sg)"/>
<circle cx="139" cy="370.8" r="6" fill="url(#sg)"/>
<circle cx="137.1" cy="406.8" r="7.3" fill="url(#sg)"/>
<circle cx="154.9" cy="406.8" r="7" fill="url(#sg)"/>
<circle cx="184.8" cy="417" r="6.8" fill="url(#sg)"/>
<circle cx="152.3" cy="444.6" r="7.2" fill="url(#sg)" clip-path="url(#cC3)"/>
<ellipse cx="180.1" cy="448.6" rx="5.5" ry="2" fill="url(#sg)"/>
<ellipse cx="50.4" cy="414.4" rx="1" ry="2.8" fill="url(#sg)"/>
<clipPath id="bdc0"><circle cx="64.4" cy="332.3" r="6.8"/></clipPath>
<g clip-path="url(#bdc0)"><rect x="57.5" y="325.5" width="8.3" height="13.6" fill="#204a9f" fill-opacity="0.8"/><rect x="57.5" y="325.5" width="8.3" height="13.6" fill="#000" fill-opacity="0.22"/></g>
<clipPath id="bdc1"><circle cx="72.5" cy="367" r="6.2"/></clipPath>
<g clip-path="url(#bdc1)"><rect x="66.2" y="360.8" width="4.5" height="12.4" fill="#204a9f" fill-opacity="0.8"/><rect x="66.2" y="360.8" width="4.5" height="12.4" fill="#000" fill-opacity="0.22"/></g>
<clipPath id="bdc2"><circle cx="73.6" cy="404.8" r="6.8"/></clipPath>
<g clip-path="url(#bdc2)"><rect x="66.7" y="398" width="3.5" height="13.6" fill="#204a9f" fill-opacity="0.8"/><rect x="66.7" y="398" width="3.5" height="13.6" fill="#000" fill-opacity="0.22"/></g>
<clipPath id="bdc3"><circle cx="95.1" cy="407.6" r="7.2"/></clipPath>
<g clip-path="url(#bdc3)"><rect x="87.8" y="400.4" width="4.2" height="14.4" fill="#1a8a85" fill-opacity="0.8"/><rect x="87.8" y="400.4" width="4.2" height="14.4" fill="#000" fill-opacity="0.22"/></g>
<clipPath id="bdc4"><circle cx="101.4" cy="349.6" r="6.8"/></clipPath>
<g clip-path="url(#bdc4)"><rect x="94.5" y="342.8" width="3.5" height="13.6" fill="#1a8f65" fill-opacity="0.8"/><rect x="94.5" y="342.8" width="3.5" height="13.6" fill="#000" fill-opacity="0.22"/></g>
<clipPath id="bdc5"><circle cx="143.7" cy="314.6" r="5.6"/></clipPath>
<g clip-path="url(#bdc5)"><rect x="138" y="309" width="3" height="11.2" fill="#459a25" fill-opacity="0.8"/><rect x="138" y="309" width="3" height="11.2" fill="#000" fill-opacity="0.22"/></g>
<clipPath id="bdc6"><circle cx="169.8" cy="343.6" r="6.5"/></clipPath>
<g clip-path="url(#bdc6)"><rect x="163.2" y="337.1" width="3" height="13" fill="#9a8f30" fill-opacity="0.8"/><rect x="163.2" y="337.1" width="3" height="13" fill="#000" fill-opacity="0.22"/></g>
<clipPath id="bdc7"><circle cx="137.1" cy="406.8" r="7.3"/></clipPath>
<g clip-path="url(#bdc7)"><rect x="129.7" y="399.5" width="3.3" height="14.6" fill="#459a25" fill-opacity="0.8"/><rect x="129.7" y="399.5" width="3.3" height="14.6" fill="#000" fill-opacity="0.22"/></g>
<clipPath id="bdc8"><circle cx="138.1" cy="337" r="7"/></clipPath>
<g clip-path="url(#bdc8)"><rect x="131" y="330" width="3.3" height="14" fill="#459a25" fill-opacity="0.8"/><rect x="131" y="330" width="3.3" height="14" fill="#000" fill-opacity="0.22"/></g>
<line x1="199.2" y1="403.6" x2="57.8" y2="398.9" stroke="#303030" stroke-width="0.8" stroke-dasharray="1.2 1" stroke-opacity="0.45"/>
<line x1="46.7" y1="318.5" x2="188.2" y2="320.2" stroke="#707070" stroke-width="0.9" />
<line x1="188.2" y1="320.2" x2="188.2" y2="453.2" stroke="#a0a0a0" stroke-width="0.8" />
<line x1="188.2" y1="453.2" x2="46.3" y2="449.2" stroke="#808080" stroke-width="0.9" />
<line x1="46.3" y1="449.2" x2="46.7" y2="318.5" stroke="#909090" stroke-width="0.9" />
<line x1="46.7" y1="318.5" x2="56.8" y2="268" stroke="#707070" stroke-width="0.8" />
<line x1="188.2" y1="320.2" x2="198.8" y2="271.5" stroke="#707070" stroke-width="0.8" />
<rect x="18.2" y="459.7" width="19.62" height="11.5" fill="url(#jet0)"/>
<rect x="37.52" y="459.7" width="19.62" height="11.5" fill="url(#jet1)"/>
<rect x="56.84" y="459.7" width="19.62" height="11.5" fill="url(#jet2)"/>
<rect x="76.16" y="459.7" width="19.62" height="11.5" fill="url(#jet3)"/>
<rect x="95.48" y="459.7" width="19.62" height="11.5" fill="url(#jet4)"/>
<rect x="114.8" y="459.7" width="19.62" height="11.5" fill="url(#jet5)"/>
<rect x="134.12" y="459.7" width="19.62" height="11.5" fill="url(#jet6)"/>
<rect x="153.44" y="459.7" width="19.62" height="11.5" fill="url(#jet7)"/>
<rect x="172.76" y="459.7" width="19.62" height="11.5" fill="url(#jet8)"/>
<rect x="192.08" y="459.7" width="19.62" height="11.5" fill="url(#jet9)"/>
<line x1="37.52" y1="459.7" x2="37.52" y2="471.2" stroke="#333" stroke-width="0.7" stroke-dasharray="1 1" stroke-opacity="0.6"/>
<line x1="56.84" y1="459.7" x2="56.84" y2="471.2" stroke="#333" stroke-width="0.7" stroke-dasharray="1 1" stroke-opacity="0.6"/>
<line x1="76.16" y1="459.7" x2="76.16" y2="471.2" stroke="#333" stroke-width="0.7" stroke-dasharray="1 1" stroke-opacity="0.6"/>
<line x1="95.48" y1="459.7" x2="95.48" y2="471.2" stroke="#333" stroke-width="0.7" stroke-dasharray="1 1" stroke-opacity="0.6"/>
<line x1="114.8" y1="459.7" x2="114.8" y2="471.2" stroke="#333" stroke-width="0.7" stroke-dasharray="1 1" stroke-opacity="0.6"/>
<line x1="134.12" y1="459.7" x2="134.12" y2="471.2" stroke="#333" stroke-width="0.7" stroke-dasharray="1 1" stroke-opacity="0.6"/>
<line x1="153.44" y1="459.7" x2="153.44" y2="471.2" stroke="#333" stroke-width="0.7" stroke-dasharray="1 1" stroke-opacity="0.6"/>
<line x1="172.76" y1="459.7" x2="172.76" y2="471.2" stroke="#333" stroke-width="0.7" stroke-dasharray="1 1" stroke-opacity="0.6"/>
<line x1="192.08" y1="459.7" x2="192.08" y2="471.2" stroke="#333" stroke-width="0.7" stroke-dasharray="1 1" stroke-opacity="0.6"/>
<text x="18.2" y="481.4" text-anchor="middle" font-family="'Liberation Sans', Arial, sans-serif" font-size="8.2" font-weight="bold" fill="#1a1a1a" style="stroke-width:0">812</text>
<text x="37.52" y="481.4" text-anchor="middle" font-family="'Liberation Sans', Arial, sans-serif" font-size="8.2" font-weight="bold" fill="#1a1a1a" style="stroke-width:0">813</text>
<text x="56.84" y="481.4" text-anchor="middle" font-family="'Liberation Sans', Arial, sans-serif" font-size="8.2" font-weight="bold" fill="#1a1a1a" style="stroke-width:0">814</text>
<text x="76.16" y="481.4" text-anchor="middle" font-family="'Liberation Sans', Arial, sans-serif" font-size="8.2" font-weight="bold" fill="#1a1a1a" style="stroke-width:0">815</text>
<text x="95.48" y="481.4" text-anchor="middle" font-family="'Liberation Sans', Arial, sans-serif" font-size="8.2" font-weight="bold" fill="#1a1a1a" style="stroke-width:0">816</text>
<text x="114.8" y="481.4" text-anchor="middle" font-family="'Liberation Sans', Arial, sans-serif" font-size="8.2" font-weight="bold" fill="#1a1a1a" style="stroke-width:0">817</text>
<text x="134.12" y="481.4" text-anchor="middle" font-family="'Liberation Sans', Arial, sans-serif" font-size="8.2" font-weight="bold" fill="#1a1a1a" style="stroke-width:0">818</text>
<text x="153.44" y="481.4" text-anchor="middle" font-family="'Liberation Sans', Arial, sans-serif" font-size="8.2" font-weight="bold" fill="#1a1a1a" style="stroke-width:0">819</text>
<text x="172.76" y="481.4" text-anchor="middle" font-family="'Liberation Sans', Arial, sans-serif" font-size="8.2" font-weight="bold" fill="#1a1a1a" style="stroke-width:0">820</text>
<text x="192.08" y="481.4" text-anchor="middle" font-family="'Liberation Sans', Arial, sans-serif" font-size="8.2" font-weight="bold" fill="#1a1a1a" style="stroke-width:0">821</text>
<text x="211.4" y="481.4" text-anchor="middle" font-family="'Liberation Sans', Arial, sans-serif" font-size="8.2" font-weight="bold" fill="#1a1a1a" style="stroke-width:0">822</text>
<text x="119.4" y="494.5" text-anchor="middle" font-family="'Liberation Serif', 'Times New Roman', serif" font-size="12.2" fill="#111">Temperature (K)</text>
<text x="3.8" y="280.4" font-family="'Liberation Serif', 'Times New Roman', serif" font-size="19.5" font-weight="bold" fill="#111">(c)</text>
<rect x="322.3" y="15.1" width="263.1" height="192.5" fill="none" stroke="#5a5a5a" stroke-width="1.5"/>
<line x1="322.3" y1="207.6" x2="322.3" y2="203.6" stroke="#3a3a3a" stroke-width="1.1"/>
<line x1="380.77" y1="207.6" x2="380.77" y2="203.6" stroke="#3a3a3a" stroke-width="1.1"/>
<line x1="439.23" y1="207.6" x2="439.23" y2="203.6" stroke="#3a3a3a" stroke-width="1.1"/>
<line x1="497.7" y1="207.6" x2="497.7" y2="203.6" stroke="#3a3a3a" stroke-width="1.1"/>
<line x1="556.17" y1="207.6" x2="556.17" y2="203.6" stroke="#3a3a3a" stroke-width="1.1"/>
<line x1="351.53" y1="207.6" x2="351.53" y2="205.1" stroke="#3a3a3a" stroke-width="1.1"/>
<line x1="410" y1="207.6" x2="410" y2="205.1" stroke="#3a3a3a" stroke-width="1.1"/>
<line x1="468.47" y1="207.6" x2="468.47" y2="205.1" stroke="#3a3a3a" stroke-width="1.1"/>
<line x1="526.93" y1="207.6" x2="526.93" y2="205.1" stroke="#3a3a3a" stroke-width="1.1"/>
<line x1="322.3" y1="207.6" x2="326.3" y2="207.6" stroke="#3a3a3a" stroke-width="1.1"/>
<line x1="322.3" y1="159.48" x2="326.3" y2="159.48" stroke="#3a3a3a" stroke-width="1.1"/>
<line x1="322.3" y1="111.35" x2="326.3" y2="111.35" stroke="#3a3a3a" stroke-width="1.1"/>
<line x1="322.3" y1="63.22" x2="326.3" y2="63.22" stroke="#3a3a3a" stroke-width="1.1"/>
<line x1="322.3" y1="15.1" x2="326.3" y2="15.1" stroke="#3a3a3a" stroke-width="1.1"/>
<line x1="322.3" y1="183.54" x2="324.8" y2="183.54" stroke="#3a3a3a" stroke-width="1.1"/>
<line x1="322.3" y1="135.41" x2="324.8" y2="135.41" stroke="#3a3a3a" stroke-width="1.1"/>
<line x1="322.3" y1="87.29" x2="324.8" y2="87.29" stroke="#3a3a3a" stroke-width="1.1"/>
<line x1="322.3" y1="39.16" x2="324.8" y2="39.16" stroke="#3a3a3a" stroke-width="1.1"/>
<text x="322.3" y="221.7" text-anchor="middle" font-family="'Liberation Serif', 'Times New Roman', serif" font-size="12.2" fill="#111">0.000</text>
<text x="380.77" y="221.7" text-anchor="middle" font-family="'Liberation Serif', 'Times New Roman', serif" font-size="12.2" fill="#111">0.004</text>
<text x="439.23" y="221.7" text-anchor="middle" font-family="'Liberation Serif', 'Times New Roman', serif" font-size="12.2" fill="#111">0.008</text>
<text x="497.7" y="221.7" text-anchor="middle" font-family="'Liberation Serif', 'Times New Roman', serif" font-size="12.2" fill="#111">0.012</text>
<text x="556.17" y="221.7" text-anchor="middle" font-family="'Liberation Serif', 'Times New Roman', serif" font-size="12.2" fill="#111">0.016</text>
<text x="317.9" y="211.5" text-anchor="end" font-family="'Liberation Serif', 'Times New Roman', serif" font-size="12.2" fill="#111">57.6</text>
<text x="317.9" y="163.38" text-anchor="end" font-family="'Liberation Serif', 'Times New Roman', serif" font-size="12.2" fill="#111">58.0</text>
<text x="317.9" y="115.25" text-anchor="end" font-family="'Liberation Serif', 'Times New Roman', serif" font-size="12.2" fill="#111">58.4</text>
<text x="317.9" y="67.12" text-anchor="end" font-family="'Liberation Serif', 'Times New Roman', serif" font-size="12.2" fill="#111">58.8</text>
<text x="317.9" y="19" text-anchor="end" font-family="'Liberation Serif', 'Times New Roman', serif" font-size="12.2" fill="#111">59.2</text>
<polyline points="338,27.9 344.9,30.7 352.5,35.2 363.5,42.7 375.5,51.7 388.6,60.7 402.3,70.7 419,82.1 433.6,92.8 448.6,103 463.3,113.2 476.3,121.5 488.5,130.7 500.2,138.9 510.9,147.2 521.1,154 531.6,161.1 539.9,167.6 548.4,173.1 556.3,178.6 563,184.1 569,188.8" fill="none" stroke="#ff2020" stroke-width="1.1" stroke-dasharray="4 3"/>
<polyline points="338,29.4 344.9,33.8 352.5,39.7 363.5,47.6 375.5,56.2 388.6,66.2 402.3,75.9 419,88.1 433.6,98.8 448.6,109.8 463.3,120.3 476.3,129.7 488.5,138.5 500.2,146.7 510.9,154.6 521.1,162 531.6,169.6 539.9,175.9 548.4,181.7 556.3,187.2 563,192 569,196.7" fill="none" stroke="#3030d8" stroke-width="1.4"/>
<rect x="334.8" y="24.7" width="6.4" height="6.4" fill="#ff0000"/>
<rect x="341.7" y="27.5" width="6.4" height="6.4" fill="#ff0000"/>
<rect x="349.3" y="32" width="6.4" height="6.4" fill="#ff0000"/>
<rect x="360.3" y="39.5" width="6.4" height="6.4" fill="#ff0000"/>
<rect x="372.3" y="48.5" width="6.4" height="6.4" fill="#ff0000"/>
<rect x="385.4" y="57.5" width="6.4" height="6.4" fill="#ff0000"/>
<rect x="399.1" y="67.5" width="6.4" height="6.4" fill="#ff0000"/>
<rect x="415.8" y="78.9" width="6.4" height="6.4" fill="#ff0000"/>
<rect x="430.4" y="89.6" width="6.4" height="6.4" fill="#ff0000"/>
<rect x="445.4" y="99.8" width="6.4" height="6.4" fill="#ff0000"/>
<rect x="460.1" y="110" width="6.4" height="6.4" fill="#ff0000"/>
<rect x="473.1" y="118.3" width="6.4" height="6.4" fill="#ff0000"/>
<rect x="485.3" y="127.5" width="6.4" height="6.4" fill="#ff0000"/>
<rect x="497" y="135.7" width="6.4" height="6.4" fill="#ff0000"/>
<rect x="507.7" y="144" width="6.4" height="6.4" fill="#ff0000"/>
<rect x="517.9" y="150.8" width="6.4" height="6.4" fill="#ff0000"/>
<rect x="528.4" y="157.9" width="6.4" height="6.4" fill="#ff0000"/>
<rect x="536.7" y="164.4" width="6.4" height="6.4" fill="#ff0000"/>
<rect x="545.2" y="169.9" width="6.4" height="6.4" fill="#ff0000"/>
<rect x="553.1" y="175.4" width="6.4" height="6.4" fill="#ff0000"/>
<rect x="559.8" y="180.9" width="6.4" height="6.4" fill="#ff0000"/>
<rect x="565.8" y="185.6" width="6.4" height="6.4" fill="#ff0000"/>
<polygon points="338,25.5 341.9,29.4 338,33.3 334.1,29.4" fill="#00e5ee"/>
<polygon points="344.9,29.9 348.8,33.8 344.9,37.7 341,33.8" fill="#00e5ee"/>
<polygon points="352.5,35.8 356.4,39.7 352.5,43.6 348.6,39.7" fill="#00e5ee"/>
<polygon points="363.5,43.7 367.4,47.6 363.5,51.5 359.6,47.6" fill="#00e5ee"/>
<polygon points="375.5,52.3 379.4,56.2 375.5,60.1 371.6,56.2" fill="#00e5ee"/>
<polygon points="388.6,62.3 392.5,66.2 388.6,70.1 384.7,66.2" fill="#00e5ee"/>
<polygon points="402.3,72 406.2,75.9 402.3,79.8 398.4,75.9" fill="#00e5ee"/>
<polygon points="419,84.2 422.9,88.1 419,92 415.1,88.1" fill="#00e5ee"/>
<polygon points="433.6,94.9 437.5,98.8 433.6,102.7 429.7,98.8" fill="#00e5ee"/>
<polygon points="448.6,105.9 452.5,109.8 448.6,113.7 444.7,109.8" fill="#00e5ee"/>
<polygon points="463.3,116.4 467.2,120.3 463.3,124.2 459.4,120.3" fill="#00e5ee"/>
<polygon points="476.3,125.8 480.2,129.7 476.3,133.6 472.4,129.7" fill="#00e5ee"/>
<polygon points="488.5,134.6 492.4,138.5 488.5,142.4 484.6,138.5" fill="#00e5ee"/>
<polygon points="500.2,142.8 504.1,146.7 500.2,150.6 496.3,146.7" fill="#00e5ee"/>
<polygon points="510.9,150.7 514.8,154.6 510.9,158.5 507,154.6" fill="#00e5ee"/>
<polygon points="521.1,158.1 525,162 521.1,165.9 517.2,162" fill="#00e5ee"/>
<polygon points="531.6,165.7 535.5,169.6 531.6,173.5 527.7,169.6" fill="#00e5ee"/>
<polygon points="539.9,172 543.8,175.9 539.9,179.8 536,175.9" fill="#00e5ee"/>
<polygon points="548.4,177.8 552.3,181.7 548.4,185.6 544.5,181.7" fill="#00e5ee"/>
<polygon points="556.3,183.3 560.2,187.2 556.3,191.1 552.4,187.2" fill="#00e5ee"/>
<polygon points="563,188.1 566.9,192 563,195.9 559.1,192" fill="#00e5ee"/>
<polygon points="569,192.8 572.9,196.7 569,200.6 565.1,196.7" fill="#00e5ee"/>
<line x1="459.3" y1="33.3" x2="464.3" y2="33.3" stroke="#ff2020" stroke-width="1.1"/><line x1="476.3" y1="33.3" x2="481" y2="33.3" stroke="#ff2020" stroke-width="1.1"/>
<rect x="468.1" y="30.1" width="6.4" height="6.4" fill="#ff0000"/>
<line x1="459.3" y1="51.1" x2="482.2" y2="51.1" stroke="#3030d8" stroke-width="1.2"/>
<polygon points="471.4,64.7 475.3,68.6 471.4,72.5 467.5,68.6" fill="#00e5ee"/>
<g font-family="'Liberation Serif', 'Times New Roman', serif" font-size="14" fill="#111"><text x="486.1" y="37.5">513 K</text><text x="486.1" y="55.2">Maxwell model</text><text x="486.1" y="72.4">Bauer model</text></g>
<text x="453.3" y="242.9" text-anchor="middle" font-family="'Liberation Serif', 'Times New Roman', serif" font-size="15.8" fill="#111">Volume fraction of void</text>
<text transform="translate(264.5,161) rotate(-90)" font-family="'Liberation Serif', 'Times New Roman', serif" font-size="15.6" fill="#111">Effective thermal</text>
<text transform="translate(283.8,176.3) rotate(-90)" font-family="'Liberation Serif', 'Times New Roman', serif" font-size="15.2" fill="#111">conductivity (W/m·K)</text>
<text x="245.6" y="18.9" font-family="'Liberation Serif', 'Times New Roman', serif" font-size="19.5" font-weight="bold" fill="#111">(b)</text>
<rect x="312.4" y="275" width="268.1" height="195.6" fill="none" stroke="#5a5a5a" stroke-width="1.5"/>
<line x1="312.4" y1="470.6" x2="312.4" y2="466.6" stroke="#3a3a3a" stroke-width="1.1"/>
<line x1="366.02" y1="470.6" x2="366.02" y2="466.6" stroke="#3a3a3a" stroke-width="1.1"/>
<line x1="419.64" y1="470.6" x2="419.64" y2="466.6" stroke="#3a3a3a" stroke-width="1.1"/>
<line x1="473.26" y1="470.6" x2="473.26" y2="466.6" stroke="#3a3a3a" stroke-width="1.1"/>
<line x1="526.88" y1="470.6" x2="526.88" y2="466.6" stroke="#3a3a3a" stroke-width="1.1"/>
<line x1="580.5" y1="470.6" x2="580.5" y2="466.6" stroke="#3a3a3a" stroke-width="1.1"/>
<line x1="339.21" y1="470.6" x2="339.21" y2="468.1" stroke="#3a3a3a" stroke-width="1.1"/>
<line x1="392.83" y1="470.6" x2="392.83" y2="468.1" stroke="#3a3a3a" stroke-width="1.1"/>
<line x1="446.45" y1="470.6" x2="446.45" y2="468.1" stroke="#3a3a3a" stroke-width="1.1"/>
<line x1="500.07" y1="470.6" x2="500.07" y2="468.1" stroke="#3a3a3a" stroke-width="1.1"/>
<line x1="553.69" y1="470.6" x2="553.69" y2="468.1" stroke="#3a3a3a" stroke-width="1.1"/>
<line x1="312.4" y1="470.6" x2="316.4" y2="470.6" stroke="#3a3a3a" stroke-width="1.1"/>
<line x1="312.4" y1="410.42" x2="316.4" y2="410.42" stroke="#3a3a3a" stroke-width="1.1"/>
<line x1="312.4" y1="350.23" x2="316.4" y2="350.23" stroke="#3a3a3a" stroke-width="1.1"/>
<line x1="312.4" y1="290.05" x2="316.4" y2="290.05" stroke="#3a3a3a" stroke-width="1.1"/>
<line x1="312.4" y1="440.51" x2="314.9" y2="440.51" stroke="#3a3a3a" stroke-width="1.1"/>
<line x1="312.4" y1="380.32" x2="314.9" y2="380.32" stroke="#3a3a3a" stroke-width="1.1"/>
<line x1="312.4" y1="320.14" x2="314.9" y2="320.14" stroke="#3a3a3a" stroke-width="1.1"/>
<text x="312.4" y="484.9" text-anchor="middle" font-family="'Liberation Serif', 'Times New Roman', serif" font-size="12.5" fill="#111">0.000</text>
<text x="366.02" y="484.9" text-anchor="middle" font-family="'Liberation Serif', 'Times New Roman', serif" font-size="12.5" fill="#111">0.004</text>
<text x="419.64" y="484.9" text-anchor="middle" font-family="'Liberation Serif', 'Times New Roman', serif" font-size="12.5" fill="#111">0.008</text>
<text x="473.26" y="484.9" text-anchor="middle" font-family="'Liberation Serif', 'Times New Roman', serif" font-size="12.5" fill="#111">0.012</text>
<text x="526.88" y="484.9" text-anchor="middle" font-family="'Liberation Serif', 'Times New Roman', serif" font-size="12.5" fill="#111">0.016</text>
<text x="580.5" y="484.9" text-anchor="middle" font-family="'Liberation Serif', 'Times New Roman', serif" font-size="12.5" fill="#111">0.020</text>
<text x="308" y="474.5" text-anchor="end" font-family="'Liberation Serif', 'Times New Roman', serif" font-size="12.5" fill="#111">39.6</text>
<text x="308" y="414.32" text-anchor="end" font-family="'Liberation Serif', 'Times New Roman', serif" font-size="12.5" fill="#111">40.0</text>
<text x="308" y="354.13" text-anchor="end" font-family="'Liberation Serif', 'Times New Roman', serif" font-size="12.5" fill="#111">40.4</text>
<text x="308" y="293.95" text-anchor="end" font-family="'Liberation Serif', 'Times New Roman', serif" font-size="12.5" fill="#111">40.8</text>
<polyline points="319.7,294.2 325.5,297.2 331.1,301 339.9,307.3 351.3,315.1 364,323.4 378.2,333.5 392.6,343.6 406,353.1 420.2,362.5 433.6,372 446.8,381 458.5,388.6 470,396 480.9,403.1 491,410.2 500,416.5 508.6,422.1 516.2,427.2 523.1,431.8 529.8,436.2 536,440.5 542,444.8 547.6,448.7 552.8,452.5 558,455.6 562.7,458.5" fill="none" stroke="#111" stroke-width="1.1" stroke-dasharray="4 3"/>
<polyline points="319.7,298.6 325.5,302.3 331.1,306.2 339.9,312.4 351.3,320.2 364,328.9 378.2,338.8 392.6,348.3 406,357.8 420.2,367.2 433.6,376.7 446.8,385.8 458.5,393.9 470,401.5 480.9,408.6 491,415.7 500,421.7 508.6,427.5 516.2,432.8 523.1,437.5 529.8,442.2 536,446.3 542,450.6 547.6,454.1 552.8,457.8 558,461.2 562.7,464.1" fill="none" stroke="#2e8b2e" stroke-width="1.3"/>
<polygon points="319.7,288.98 324.2,296.81 315.2,296.81" fill="#000"/>
<polygon points="325.5,291.98 330,299.81 321,299.81" fill="#000"/>
<polygon points="331.1,295.78 335.6,303.61 326.6,303.61" fill="#000"/>
<polygon points="339.9,302.08 344.4,309.91 335.4,309.91" fill="#000"/>
<polygon points="351.3,309.88 355.8,317.71 346.8,317.71" fill="#000"/>
<polygon points="364,318.18 368.5,326.01 359.5,326.01" fill="#000"/>
<polygon points="378.2,328.28 382.7,336.11 373.7,336.11" fill="#000"/>
<polygon points="392.6,338.38 397.1,346.21 388.1,346.21" fill="#000"/>
<polygon points="406,347.88 410.5,355.71 401.5,355.71" fill="#000"/>
<polygon points="420.2,357.28 424.7,365.11 415.7,365.11" fill="#000"/>
<polygon points="433.6,366.78 438.1,374.61 429.1,374.61" fill="#000"/>
<polygon points="446.8,375.78 451.3,383.61 442.3,383.61" fill="#000"/>
<polygon points="458.5,383.38 463,391.21 454,391.21" fill="#000"/>
<polygon points="470,390.78 474.5,398.61 465.5,398.61" fill="#000"/>
<polygon points="480.9,397.88 485.4,405.71 476.4,405.71" fill="#000"/>
<polygon points="491,404.98 495.5,412.81 486.5,412.81" fill="#000"/>
<polygon points="500,411.28 504.5,419.11 495.5,419.11" fill="#000"/>
<polygon points="508.6,416.88 513.1,424.71 504.1,424.71" fill="#000"/>
<polygon points="516.2,421.98 520.7,429.81 511.7,429.81" fill="#000"/>
<polygon points="523.1,426.58 527.6,434.41 518.6,434.41" fill="#000"/>
<polygon points="529.8,430.98 534.3,438.81 525.3,438.81" fill="#000"/>
<polygon points="536,435.28 540.5,443.11 531.5,443.11" fill="#000"/>
<polygon points="542,439.58 546.5,447.41 537.5,447.41" fill="#000"/>
<polygon points="547.6,443.48 552.1,451.31 543.1,451.31" fill="#000"/>
<polygon points="552.8,447.28 557.3,455.11 548.3,455.11" fill="#000"/>
<polygon points="558,450.38 562.5,458.21 553.5,458.21" fill="#000"/>
<polygon points="562.7,453.28 567.2,461.11 558.2,461.11" fill="#000"/>
<circle cx="319.7" cy="298.6" r="3.3" fill="#22ee22"/>
<circle cx="325.5" cy="302.3" r="3.3" fill="#22ee22"/>
<circle cx="331.1" cy="306.2" r="3.3" fill="#22ee22"/>
<circle cx="339.9" cy="312.4" r="3.3" fill="#22ee22"/>
<circle cx="351.3" cy="320.2" r="3.3" fill="#22ee22"/>
<circle cx="364" cy="328.9" r="3.3" fill="#22ee22"/>
<circle cx="378.2" cy="338.8" r="3.3" fill="#22ee22"/>
<circle cx="392.6" cy="348.3" r="3.3" fill="#22ee22"/>
<circle cx="406" cy="357.8" r="3.3" fill="#22ee22"/>
<circle cx="420.2" cy="367.2" r="3.3" fill="#22ee22"/>
<circle cx="433.6" cy="376.7" r="3.3" fill="#22ee22"/>
<circle cx="446.8" cy="385.8" r="3.3" fill="#22ee22"/>
<circle cx="458.5" cy="393.9" r="3.3" fill="#22ee22"/>
<circle cx="470" cy="401.5" r="3.3" fill="#22ee22"/>
<circle cx="480.9" cy="408.6" r="3.3" fill="#22ee22"/>
<circle cx="491" cy="415.7" r="3.3" fill="#22ee22"/>
<circle cx="500" cy="421.7" r="3.3" fill="#22ee22"/>
<circle cx="508.6" cy="427.5" r="3.3" fill="#22ee22"/>
<circle cx="516.2" cy="432.8" r="3.3" fill="#22ee22"/>
<circle cx="523.1" cy="437.5" r="3.3" fill="#22ee22"/>
<circle cx="529.8" cy="442.2" r="3.3" fill="#22ee22"/>
<circle cx="536" cy="446.3" r="3.3" fill="#22ee22"/>
<circle cx="542" cy="450.6" r="3.3" fill="#22ee22"/>
<circle cx="547.6" cy="454.1" r="3.3" fill="#22ee22"/>
<circle cx="552.8" cy="457.8" r="3.3" fill="#22ee22"/>
<circle cx="558" cy="461.2" r="3.3" fill="#22ee22"/>
<circle cx="562.7" cy="464.1" r="3.3" fill="#22ee22"/>
<line x1="453.1" y1="292.1" x2="456.6" y2="292.1" stroke="#111" stroke-width="1.1"/><line x1="470.2" y1="292.1" x2="474" y2="292.1" stroke="#111" stroke-width="1.1"/>
<polygon points="465,286.46 469.6,294.47 460.4,294.47" fill="#000"/>
<line x1="453.1" y1="309.0" x2="477.3" y2="309.0" stroke="#2e8b2e" stroke-width="1.2"/>
<circle cx="465" cy="327.9" r="3" fill="#22ee22"/>
<g font-family="'Liberation Serif', 'Times New Roman', serif" font-size="14.5" fill="#111"><text x="480.3" y="296.4">822 K</text><text x="480.3" y="314">Maxwell model</text><text x="480.3" y="331.7">Bauer model</text></g>
<text x="453.3" y="507.8" text-anchor="middle" font-family="'Liberation Serif', 'Times New Roman', serif" font-size="15.8" fill="#111">Volume fraction of void</text>
<text transform="translate(256,431) rotate(-90)" font-family="'Liberation Serif', 'Times New Roman', serif" font-size="15.8" fill="#111">Effective thermal</text>
<text transform="translate(274,444.7) rotate(-90)" font-family="'Liberation Serif', 'Times New Roman', serif" font-size="15.3" fill="#111">conductivity (W/m·K)</text>
<text x="241.8" y="280.9" font-family="'Liberation Serif', 'Times New Roman', serif" font-size="19.5" font-weight="bold" fill="#111">(d)</text>
</svg></body></html>
